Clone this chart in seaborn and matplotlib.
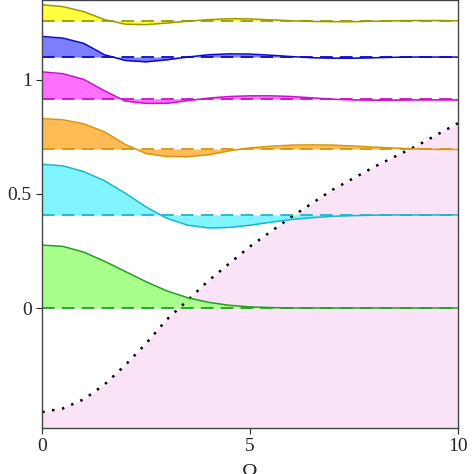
import numpy as np
import pandas as pd
import seaborn as sns
import matplotlib.pyplot as plt

omega = [0, 0.5, 1, 1.5, 2, 2.5, 3, 3.5, 4, 4.5, 5, 5.5, 6, 6.5, 7, 7.5, 8, 8.5, 9, 9.5, 10]

# offsets of each stacked curve and its deviation from that offset
baselines = [0.0, 0.408, 0.697, 0.917, 1.10, 1.259]
green = [0.276, 0.27, 0.245, 0.205, 0.16, 0.115, 0.075, 0.045, 0.025, 0.012, 0.005, 0.002, 0, 0, 0, 0, 0, 0, 0, 0, 0]
cyan = [0.222, 0.215, 0.19, 0.15, 0.095, 0.035, -0.015, -0.045, -0.057, -0.055, -0.045, -0.032, -0.02, -0.012, -0.006, -0.003, -0.001, 0, 0, 0, 0]
orange = [0.133, 0.128, 0.11, 0.075, 0.02, -0.02, -0.033, -0.034, -0.025, -0.008, 0.005, 0.012, 0.017, 0.018, 0.017, 0.013, 0.008, 0.004, 0, -0.002, -0.002]
magenta = [0.118, 0.11, 0.085, 0.035, -0.01, -0.02, -0.02, -0.008, 0.003, 0.01, 0.013, 0.013, 0.01, 0.004, -0.002, -0.005, -0.006, -0.006, -0.005, -0.005, -0.005]
blue = [0.09, 0.083, 0.06, 0.01, -0.015, -0.021, -0.012, 0, 0.01, 0.014, 0.013, 0.008, 0.002, -0.003, -0.005, -0.005, -0.003, -0.001, 0, 0, 0]
yellow = [0.07, 0.062, 0.04, 0.005, -0.015, -0.017, -0.01, -0.002, 0.005, 0.009, 0.008, 0.004, 0, -0.003, -0.004, -0.004, -0.002, 0, 0.001, 0.001, 0]
series = [green, cyan, orange, magenta, blue, yellow]

dotted_x = [0, 0.5, 1, 1.5, 2, 2.5, 3, 3.3, 4, 5, 6, 7, 8, 9, 10]
dotted_y = [-0.456, -0.44, -0.4, -0.335, -0.25, -0.155, -0.05, 0, 0.12, 0.27, 0.4, 0.52, 0.62, 0.71, 0.81]

fills = ['#a8ff8c', '#80f4ff', '#ffbb55', '#ff70ff', '#7d7dff', '#ffff40']
edges = ['#22a022', '#20b4cc', '#d8960c', '#cc10cc', '#0a0acc', '#9a9a00']

sns.set_style("white")
plt.rcParams['font.family'] = ['Liberation Serif', 'DejaVu Serif']
fig = plt.figure(figsize=(4.74, 4.74), dpi=100)
ax = fig.add_axes([0.089, 0.097, 0.877, 0.903])

ax.fill_between(dotted_x, dotted_y, -0.7, color='#fbe3f7', lw=0)
sns.lineplot(x=dotted_x, y=dotted_y, ax=ax, color='black', lw=1.8, ls=(0, (1, 3)))

x = np.array(omega)
for base, dev, fc, ec in zip(baselines, series, fills, edges):
    y = base + np.array(dev)
    ax.fill_between(x, y, base, color=fc, lw=0)
    sns.lineplot(x=x, y=y, ax=ax, color=ec, lw=1.1)
    ax.plot([0, 10], [base, base], color=ec, lw=1.3, ls=(0, (7, 4)))

ax.set_xlim(0, 10)
ax.set_ylim(-0.526, 1.35)
ax.set_xticks([0, 5, 10])
ax.set_yticks([0, 0.5, 1])
ax.set_yticklabels(['0', '0.5', '1'])
ax.tick_params(labelsize=14, length=4, direction='out', left=True, bottom=True)
ax.set_xlabel('Ω', fontsize=15, labelpad=6)
for s in ax.spines.values():
    s.set_color('#444444')
    s.set_linewidth(1)
fig.savefig('out.png', dpi=100)
